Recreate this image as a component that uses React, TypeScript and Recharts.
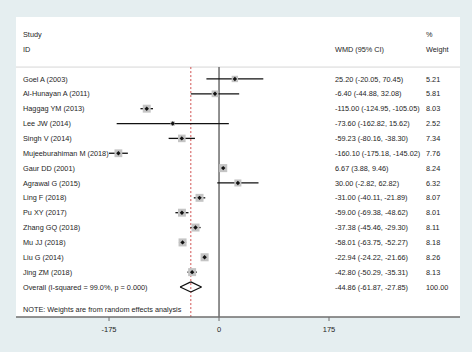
import { ComposedChart, Scatter, XAxis, YAxis, CartesianGrid, ReferenceLine } from 'recharts';

const studies = [
  'Goel A (2003)',
  'Al-Hunayan A (2011)',
  'Haggag YM (2013)',
  'Lee JW (2014)',
  'Singh V (2014)',
  'Mujeeburahiman M (2018)',
  'Gaur DD (2001)',
  'Agrawal G (2015)',
  'Ling F (2018)',
  'Pu XY (2017)',
  'Zhang GQ (2018)',
  'Mu JJ (2018)',
  'Liu G (2014)',
  'Jing ZM (2018)',
];
const wmd = [25.2, -6.4, -115.0, -73.6, -59.23, -160.1, 6.67, 30.0, -31.0, -59.0, -37.38, -58.01, -22.94, -42.8];
const lower = [-20.05, -44.88, -124.95, -162.82, -80.16, -175.18, 3.88, -2.82, -40.11, -69.38, -45.46, -63.75, -24.22, -50.29];
const upper = [70.45, 32.08, -105.05, 15.62, -38.3, -145.02, 9.46, 62.82, -21.89, -48.62, -29.3, -52.27, -21.66, -35.31];
const weights = [5.21, 5.81, 8.03, 2.52, 7.34, 7.76, 8.24, 6.32, 8.07, 8.01, 8.11, 8.18, 8.26, 8.13];
const overall = { est: -44.86, lo: -61.87, hi: -27.85 };
const overallLabel = 'Overall  (I-squared = 99.0%, p = 0.000)';
const noteLabel = 'NOTE: Weights are from random effects analysis';
const xTicks = [-175, 0, 175];

const FONT = '"Liberation Sans", Arial, sans-serif';
const TEXT = '#1e1e1e';
const OVERALL_ROW = studies.length;
const NOTE_ROW = OVERALL_ROW + 1.5;
const SEP_ROW = -0.8;
const Y_MIN = -4.17;
const Y_MAX = 16.02;

const fmt = (e: number, l: number, h: number) => `${e.toFixed(2)} (${l.toFixed(2)}, ${h.toFixed(2)})`;

const points = studies.map((s, i) => ({ row: i, x: wmd[i], w: weights[i] }));
const rowTicks = [-3, -2, ...studies.map((_, i) => i), OVERALL_ROW, NOTE_ROW];

function rowTexts(v: number): [string, string, string] {
  if (v === -3) return ['Study', '', '%'];
  if (v === -2) return ['ID', 'WMD (95% CI)', 'Weight'];
  if (v === OVERALL_ROW) return [overallLabel, fmt(overall.est, overall.lo, overall.hi), '100.00'];
  if (v === NOTE_ROW) return [noteLabel, '', ''];
  return [studies[v], fmt(wmd[v], lower[v], upper[v]), weights[v].toFixed(2)];
}

function RowTick(props: any) {
  const { y, payload } = props;
  const [a, b, c] = rowTexts(payload.value);
  const common = { y, dy: '0.35em', fontSize: 7.3, fontFamily: FONT, fill: TEXT };
  return (
    <g>
      <text x={23} {...common}>{a}</text>
      {b && <text x={335} {...common}>{b}</text>}
      {c && <text x={426} {...common}>{c}</text>}
    </g>
  );
}

function StudyMarker(props: any) {
  const { cx, cy, payload } = props;
  const side = 2.8 * Math.sqrt(payload.w);
  return (
    <g>
      <rect x={cx - side / 2} y={cy - side / 2} width={side} height={side} fill="#c4c4c4" />
      <path d={`M${cx - 2.2},${cy} L${cx},${cy - 2.2} L${cx + 2.2},${cy} L${cx},${cy + 2.2} Z`} fill="#111" />
    </g>
  );
}

const dh = 0.34;

export default function App() {
  return (
    <div style={{ width: 474, height: 354, background: '#ffffff' }}>
      <style>{'body{margin:0}'}</style>
      <div style={{ width: 472, height: 352, background: '#e5eef0' }}>
        <ComposedChart width={474} height={354} margin={{ top: 17, right: 14, bottom: 7, left: 15 }}>
          <CartesianGrid fill="#ffffff" stroke="none" horizontal={false} vertical={false} />
          <XAxis
            type="number"
            dataKey="x"
            domain={[-323, 383.4]}
            allowDataOverflow
            ticks={xTicks}
            height={30}
            axisLine={{ stroke: '#6e6e6e', strokeWidth: 1.5 }}
            tickLine={{ stroke: '#6e6e6e', strokeWidth: 1 }}
            tickSize={4}
            tickMargin={6}
            tick={{ fontSize: 7.5, fontFamily: FONT, fill: TEXT }}
          />
          <YAxis
            type="number"
            dataKey="row"
            domain={[Y_MIN, Y_MAX]}
            allowDataOverflow
            reversed
            width={1}
            ticks={rowTicks}
            interval={0}
            axisLine={false}
            tickLine={false}
            tick={(p: any) => <RowTick {...p} />}
          />
          <ReferenceLine y={SEP_ROW} stroke="#d6d6d6" strokeWidth={1} />
          <ReferenceLine
            segment={[{ x: 0, y: SEP_ROW }, { x: 0, y: Y_MAX }]}
            stroke="#222"
            strokeWidth={1}
          />
          <ReferenceLine
            segment={[{ x: overall.est, y: SEP_ROW }, { x: overall.est, y: Y_MAX }]}
            stroke="#d05050"
            strokeWidth={1}
            strokeDasharray="2 2"
          />
          {studies.map((s, i) => (
            <ReferenceLine
              key={s}
              segment={[{ x: lower[i], y: i }, { x: upper[i], y: i }]}
              stroke="#111"
              strokeWidth={1.3}
            />
          ))}
          <Scatter data={points} shape={<StudyMarker />} isAnimationActive={false} />
          <ReferenceLine segment={[{ x: overall.lo, y: OVERALL_ROW }, { x: overall.est, y: OVERALL_ROW - dh }]} stroke="#111" strokeWidth={1.3} />
          <ReferenceLine segment={[{ x: overall.est, y: OVERALL_ROW - dh }, { x: overall.hi, y: OVERALL_ROW }]} stroke="#111" strokeWidth={1.3} />
          <ReferenceLine segment={[{ x: overall.hi, y: OVERALL_ROW }, { x: overall.est, y: OVERALL_ROW + dh }]} stroke="#111" strokeWidth={1.3} />
          <ReferenceLine segment={[{ x: overall.est, y: OVERALL_ROW + dh }, { x: overall.lo, y: OVERALL_ROW }]} stroke="#111" strokeWidth={1.3} />
        </ComposedChart>
      </div>
    </div>
  );
}
